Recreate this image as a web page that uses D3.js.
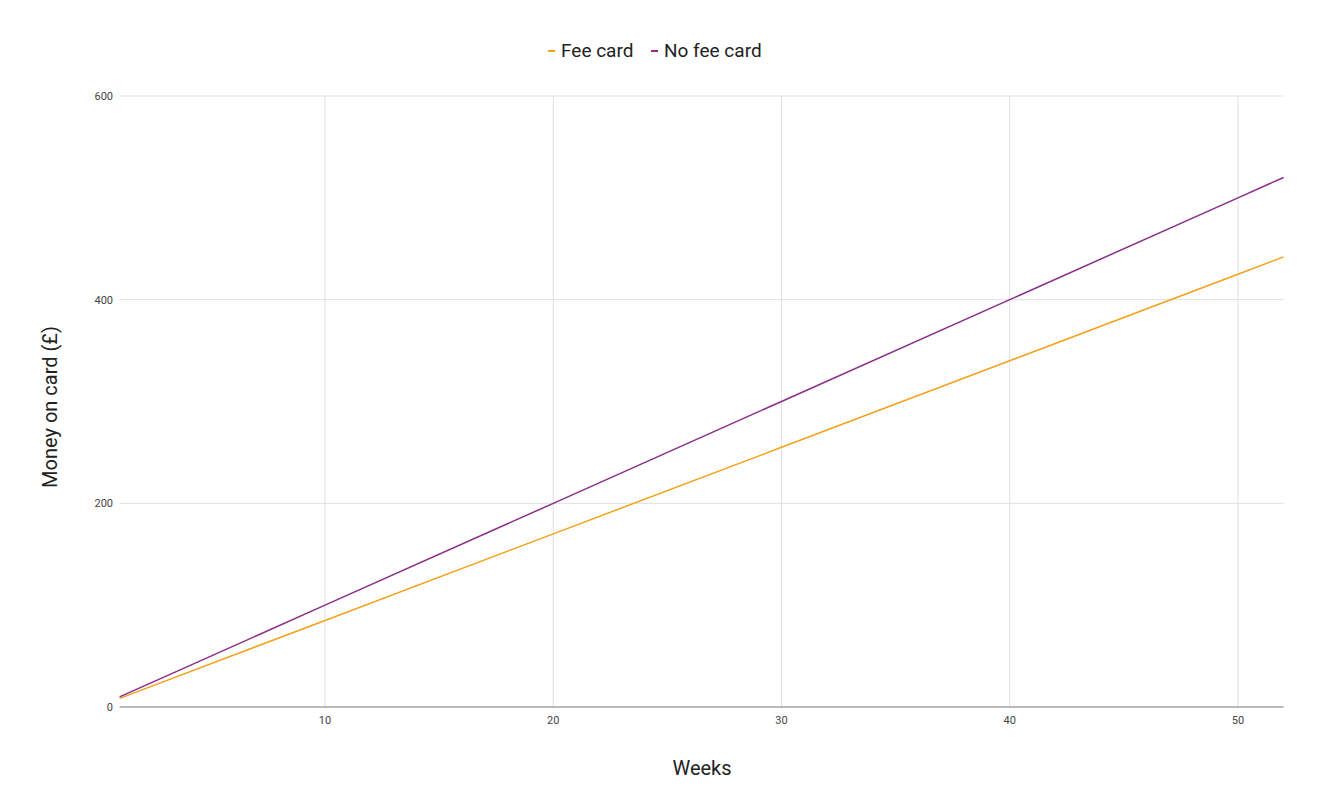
<!DOCTYPE html>
<html><head><meta charset="utf-8">
<script src="https://cdn.jsdelivr.net/npm/d3@7"></script>
<style>body{margin:0;background:#fff;font-family:Roboto,sans-serif}</style>
</head><body><svg id="c" width="1324" height="802"></svg>
<script>
const weeks = [1, 10, 20, 30, 40, 50, 52];
const feeCard = [8.5, 85, 170, 255, 340, 425, 442];
const noFeeCard = [10, 100, 200, 300, 400, 500, 520];
const xTicks = [10, 20, 30, 40, 50];
const yTicks = [0, 200, 400, 600];
const seriesNames = ["Fee card", "No fee card"];
const colors = ["#f4a11b", "#8b2c8b"];

const svg = d3.select("#c");
const x = d3.scaleLinear().domain([1, 52]).range([119.6, 1283.6]);
const y = d3.scaleLinear().domain([0, 600]).range([707, 96]);

const g = svg.append("g");
g.selectAll(".vg").data(xTicks).join("line")
  .attr("x1", d => x(d)).attr("x2", d => x(d)).attr("y1", y(0)).attr("y2", y(600))
  .attr("stroke", "#e0e0e0");
g.selectAll(".hg").data(yTicks.filter(d => d > 0)).join("line")
  .attr("x1", x(1)).attr("x2", x(52)).attr("y1", d => y(d)).attr("y2", d => y(d))
  .attr("stroke", "#e0e0e0");
g.append("line").attr("x1", x(1)).attr("x2", x(52)).attr("y1", y(0)).attr("y2", y(0)).attr("stroke", "#777");

g.selectAll(".xt").data(xTicks).join("text")
  .attr("x", d => x(d)).attr("y", 724).attr("text-anchor", "middle")
  .attr("font-size", 11).attr("fill", "#444").text(d => d);
g.selectAll(".yt").data(yTicks).join("text")
  .attr("x", 113).attr("y", d => y(d) + 4).attr("text-anchor", "end")
  .attr("font-size", 11).attr("fill", "#444").text(d => d);

const line = d3.line().x((d, i) => x(weeks[i])).y(d => y(d));
[feeCard, noFeeCard].forEach((s, i) => {
  g.append("path").attr("d", line(s)).attr("fill", "none")
    .attr("stroke", colors[i]).attr("stroke-width", 1.5);
});

svg.append("text").attr("x", 702).attr("y", 775).attr("text-anchor", "middle")
  .attr("font-size", 20).attr("fill", "#222").text("Weeks");
svg.append("text").attr("transform", "translate(57,407) rotate(-90)").attr("text-anchor", "middle")
  .attr("font-size", 20).attr("fill", "#222").text("Money on card (£)");

const lg = svg.append("g");
const items = [{x: 548, w: 95}, {x: 651, w: 125}];
seriesNames.forEach((n, i) => {
  lg.append("line").attr("x1", items[i].x).attr("x2", items[i].x + 7).attr("y1", 51).attr("y2", 51)
    .attr("stroke", colors[i]).attr("stroke-width", 2);
  lg.append("text").attr("x", items[i].x + 13).attr("y", 57).attr("font-size", 19)
    .attr("fill", "#222").text(n);
});
</script></body></html>
